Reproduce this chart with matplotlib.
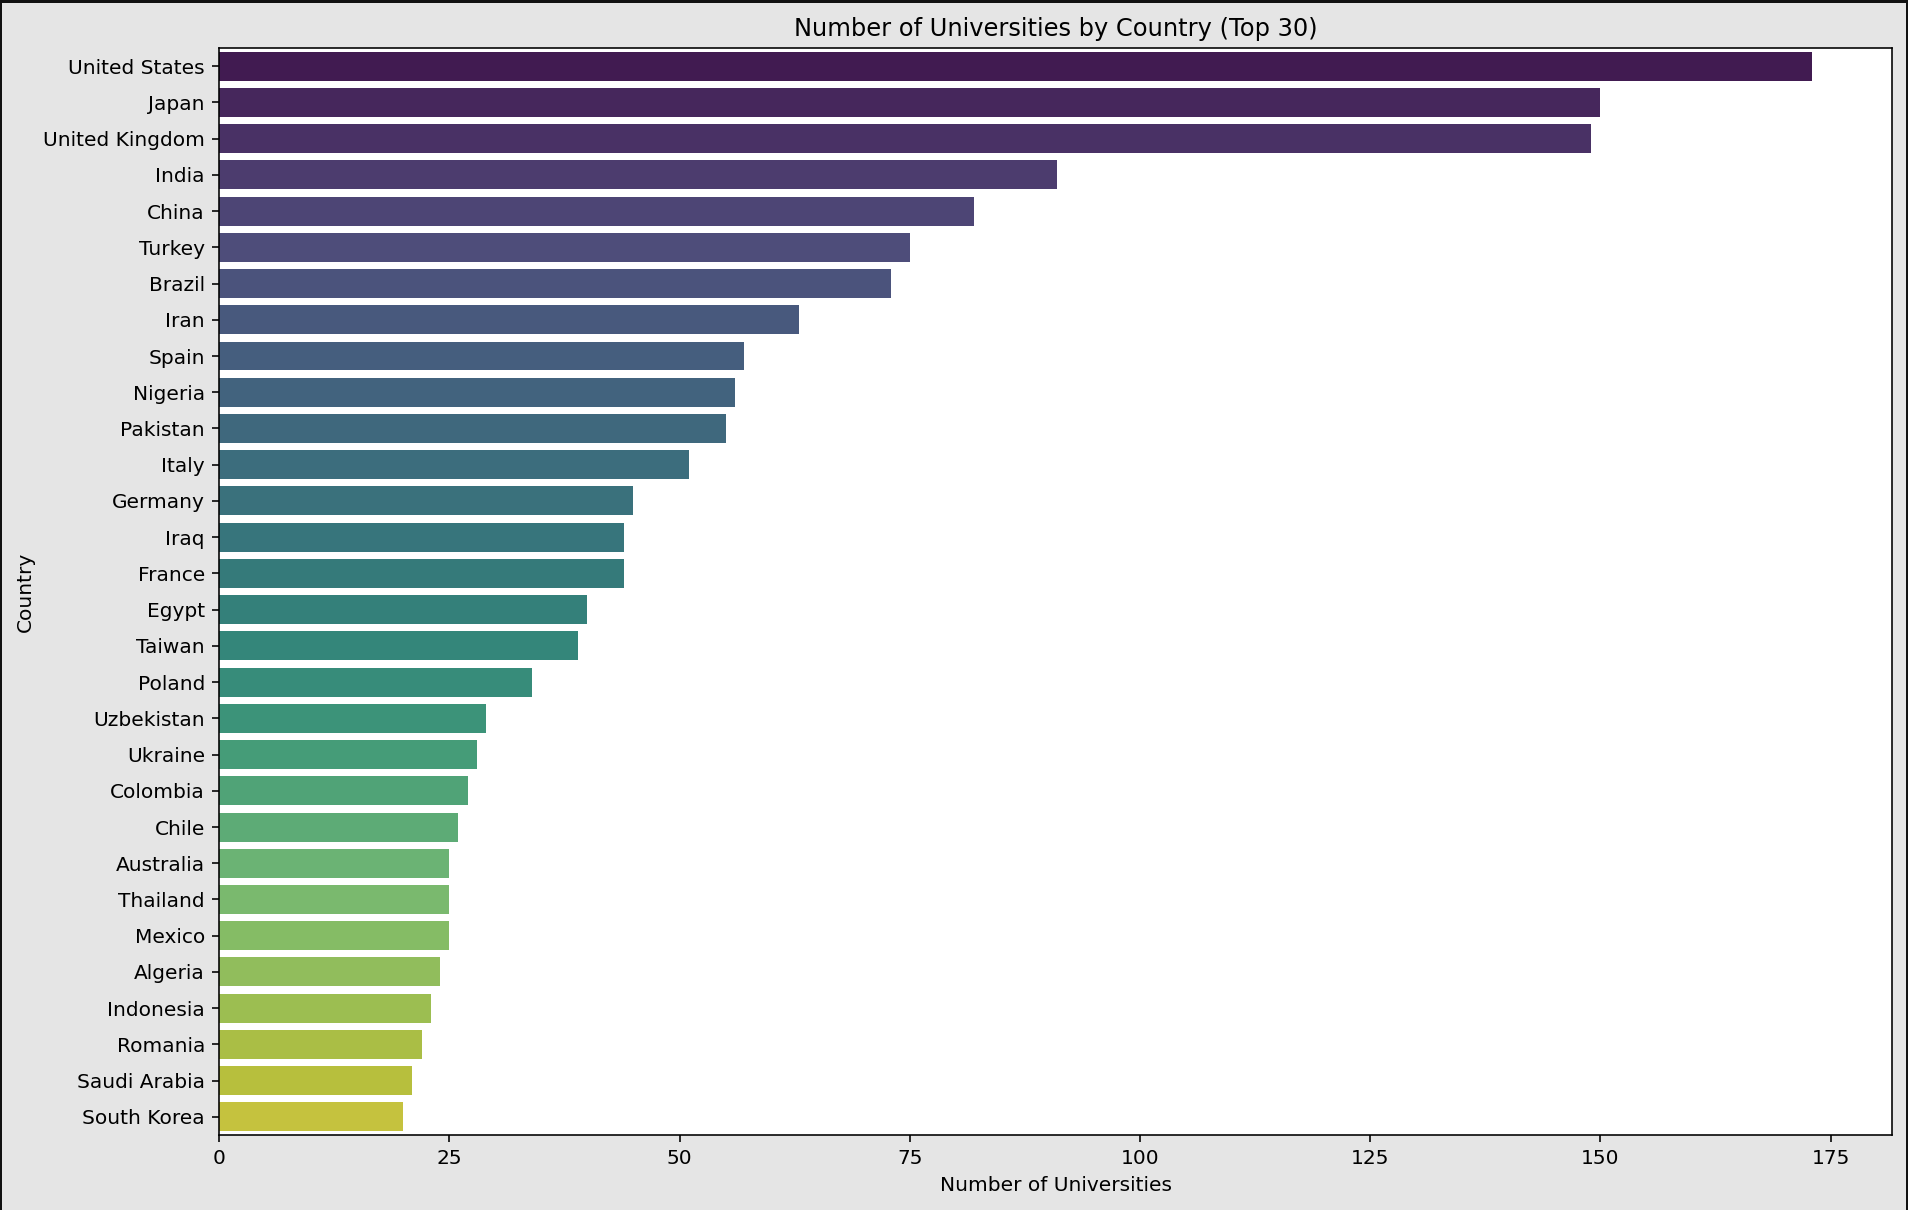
import matplotlib
matplotlib.use("Agg")
import matplotlib.pyplot as plt
from matplotlib.patches import Rectangle
import seaborn as sns
import pandas as pd

# Top 30 countries by number of universities
countries = [
    "United States", "Japan", "United Kingdom", "India", "China", "Turkey",
    "Brazil", "Iran", "Spain", "Nigeria", "Pakistan", "Italy", "Germany",
    "Iraq", "France", "Egypt", "Taiwan", "Poland", "Uzbekistan", "Ukraine",
    "Colombia", "Chile", "Australia", "Thailand", "Mexico", "Algeria",
    "Indonesia", "Romania", "Saudi Arabia", "South Korea",
]
counts = [
    173, 150, 149, 91, 82, 75, 73, 63, 57, 56, 55, 51, 45, 44, 44,
    40, 39, 34, 29, 28, 27, 26, 25, 25, 25, 24, 23, 22, 21, 20,
]

df = pd.DataFrame({"Country": countries, "Count": counts})

# viridis, muted like the reference screenshot
colors = [sns.desaturate(c, 0.65) for c in sns.color_palette("viridis", len(countries))]

dpi = 145
fig = plt.figure(figsize=(1908 / dpi, 1210 / dpi), dpi=dpi, facecolor="#e5e5e5")
ax = fig.add_axes([0.1148, 0.062, 0.9916 - 0.1148, 0.9603 - 0.062])

sns.barplot(data=df, x="Count", y="Country", hue="Country",
            palette=colors, saturation=1, legend=False, ax=ax)

ax.set_title("Number of Universities by Country (Top 30)")
ax.set_xlabel("Number of Universities")
ax.set_ylabel("Country")

# screenshot frame (dark strips on top, left, right)
W, H = 1908, 1210
fig.add_artist(Rectangle((0, 1 - 3 / H), 1, 3 / H, transform=fig.transFigure,
                         color="#111111", lw=0))
fig.add_artist(Rectangle((0, 0), 2 / W, 1, transform=fig.transFigure,
                         color="#111111", lw=0))
fig.add_artist(Rectangle((1 - 2 / W, 0), 2 / W, 1, transform=fig.transFigure,
                         color="#111111", lw=0))

fig.savefig("out.png", dpi=dpi, facecolor=fig.get_facecolor())
